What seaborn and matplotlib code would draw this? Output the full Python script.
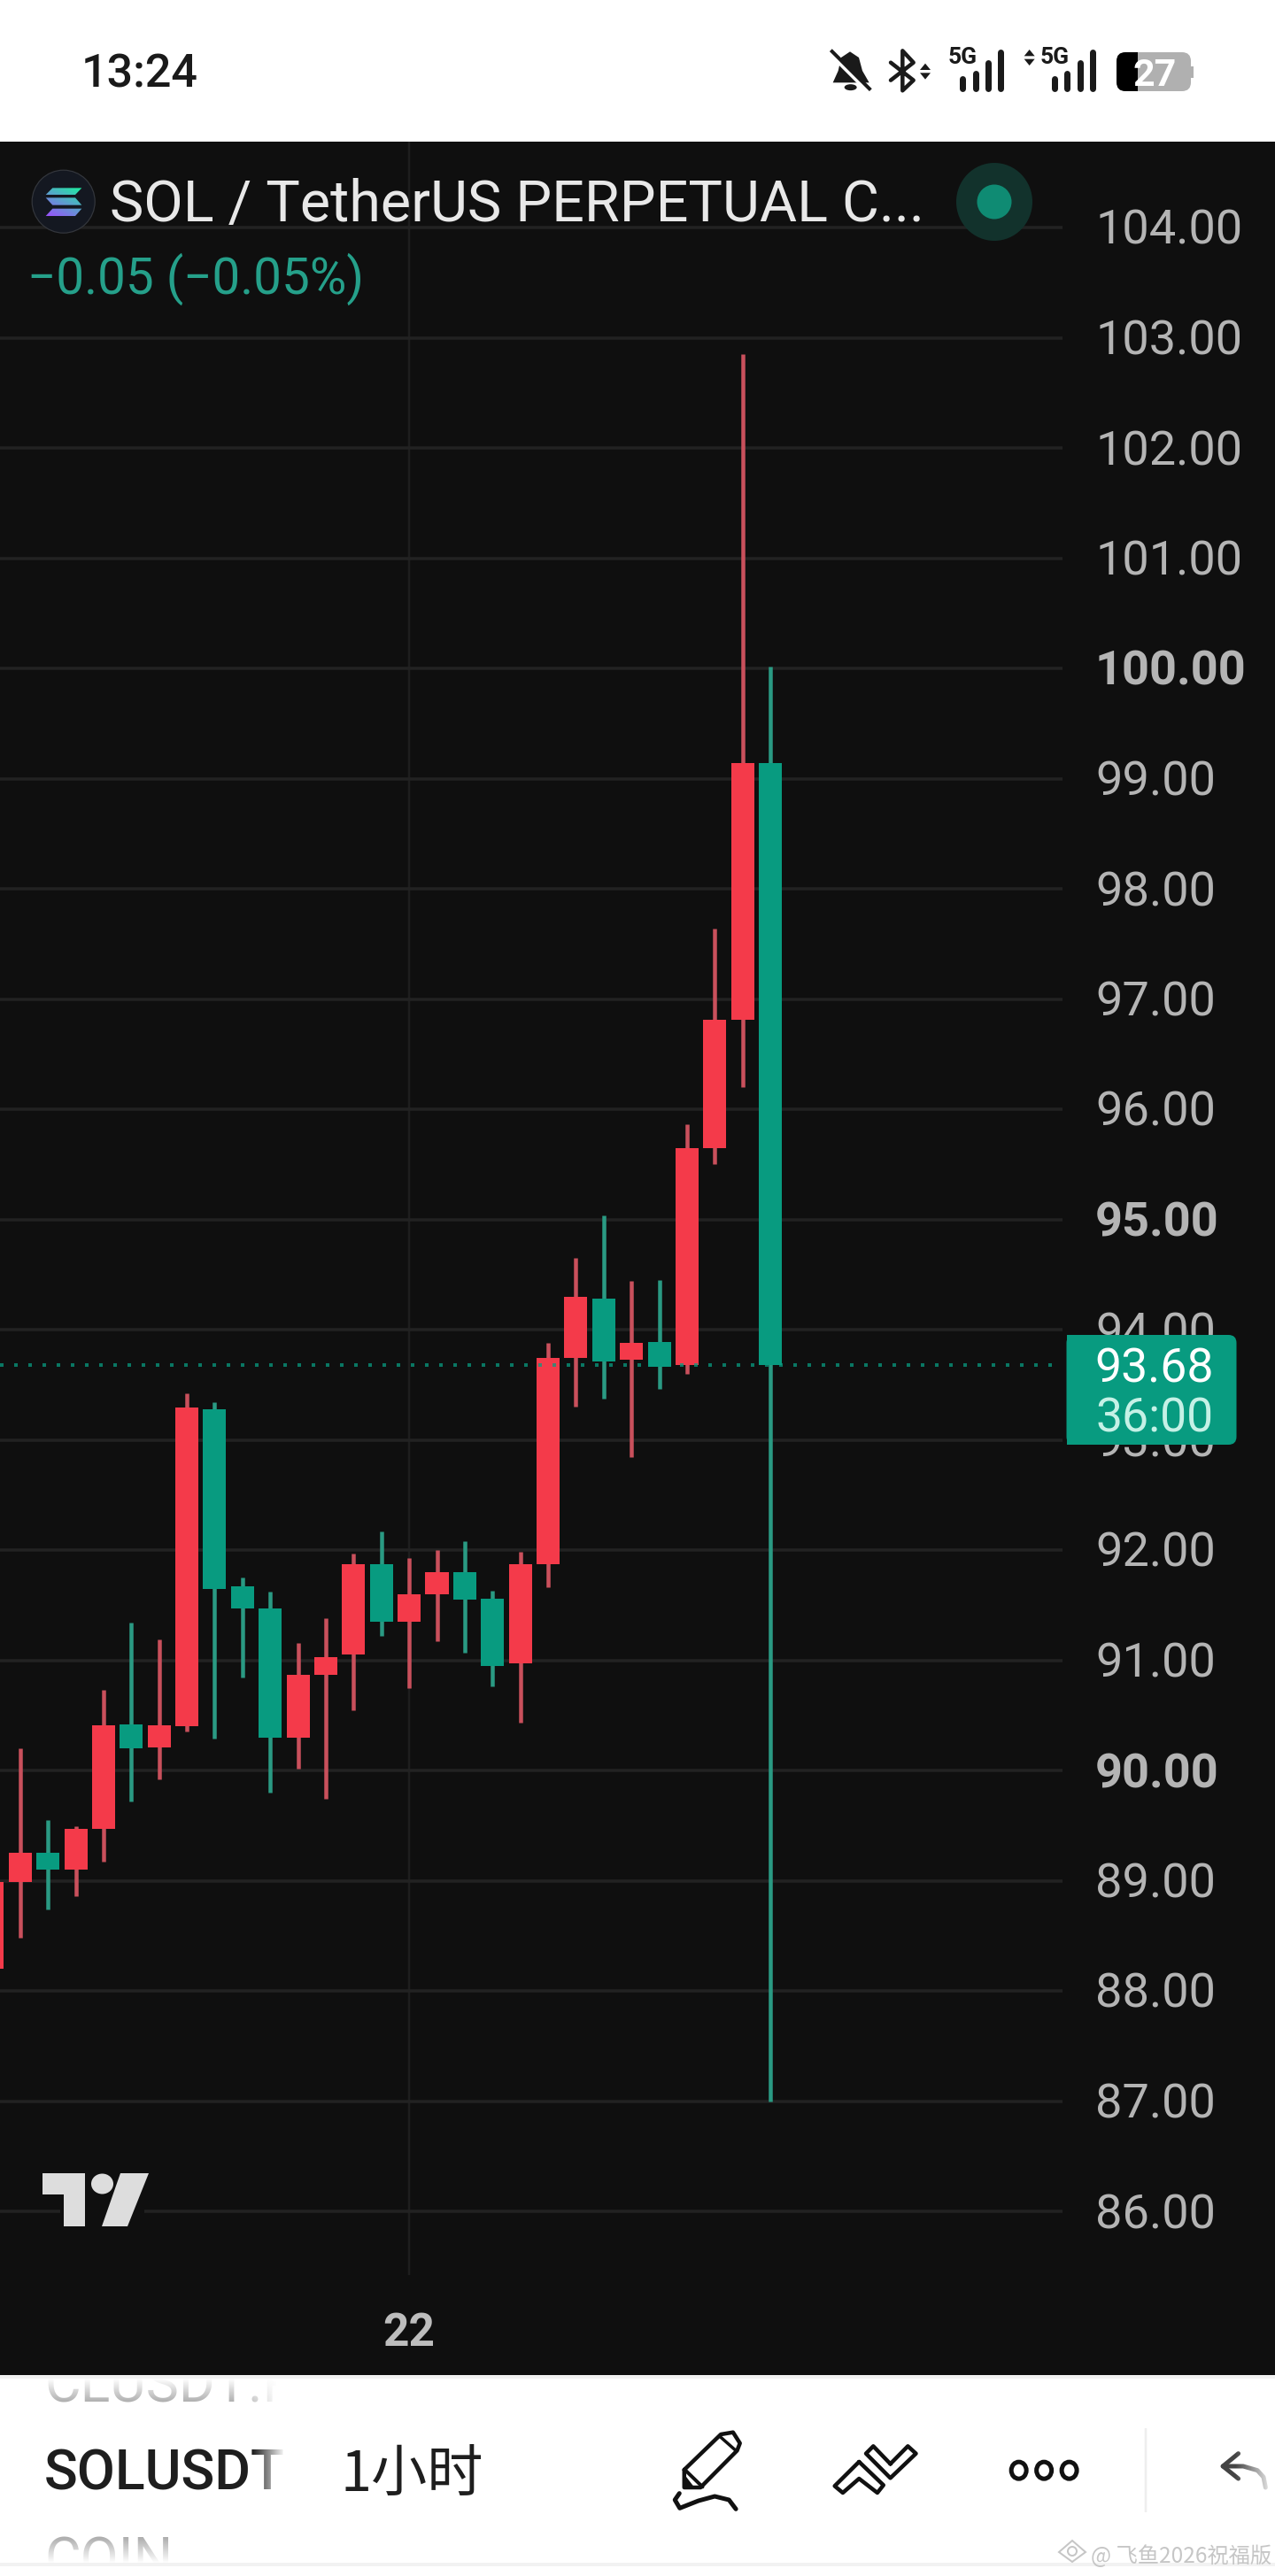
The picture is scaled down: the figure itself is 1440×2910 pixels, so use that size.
import numpy as np
import pandas as pd
import matplotlib
matplotlib.use("Agg")
import matplotlib.pyplot as plt
import seaborn as sns
from matplotlib.patches import Rectangle, FancyBboxPatch, Polygon, Circle, Ellipse, PathPatch
from matplotlib.path import Path
from matplotlib.transforms import ScaledTranslation

# ---- data ----
candle_index = list(range(-1, 28))
opens  = [88.20, 88.99, 89.25, 89.10, 89.47, 90.42, 90.21, 90.40, 93.28, 91.67, 91.47, 90.30, 90.87, 91.05, 91.87, 91.35,
          91.60, 91.80, 91.56, 90.97, 91.87, 93.74, 94.285, 93.73, 93.89, 93.68, 95.65, 96.81, 99.14]
closes = [88.99, 89.25, 89.10, 89.47, 90.41, 90.20, 90.41, 93.29, 91.65, 91.47, 90.30, 90.87, 91.03, 91.87, 91.35, 91.60,
          91.80, 91.55, 90.95, 91.87, 93.74, 94.30, 93.71, 93.88, 93.66, 95.65, 96.81, 99.14, 93.68]
highs  = [89.20, 90.20, 89.55, 89.49, 90.73, 91.34, 91.19, 93.42, 93.34, 91.75, 91.62, 91.16, 91.38, 91.97, 92.17, 91.93,
          92.00, 92.08, 91.63, 91.98, 93.88, 94.65, 95.04, 94.44, 94.45, 95.86, 97.635, 102.85, 100.02]
lows   = [88.00, 88.48, 88.74, 88.86, 89.17, 89.72, 89.92, 90.35, 90.29, 90.84, 89.80, 90.02, 89.74, 90.55, 91.22, 90.75,
          91.17, 91.07, 90.76, 90.43, 91.66, 93.305, 93.37, 92.84, 93.46, 93.60, 95.50, 96.20, 87.00]
price_ticks = list(range(86, 105))
bold_ticks = [90, 95, 100]
day_tick = 14
day_label = "22"
last_price = 93.675
title_text = "SOL / TetherUS PERPETUAL C..."
change_text = "\u22120.05 (\u22120.05%)"
price_tag = "93.68"
timer_tag = "36:00"

UP, DOWN, BG = "#F43A4A", "#089B80", "#0F0F0F"
UP_WICK, DOWN_WICK = "#C9505C", "#2A9A83"
GRID = "#222222"
LABEL = "#B4B4B4"

W, H = 1440, 2910
px = 72 / 100  # points per pixel at dpi 100

sns.set_theme(style="dark", rc={"axes.facecolor": BG, "figure.facecolor": "white"})
plt.rcParams["font.family"] = ["Roboto", "Noto Sans CJK SC", "DejaVu Sans"]

frame = pd.DataFrame({"i": candle_index, "o": opens, "c": closes, "h": highs, "l": lows})
frame["dir"] = np.where(frame.c >= frame.o, "up", "down")
wicks = frame.melt(id_vars=["i", "dir"], value_vars=["l", "h"], value_name="price")

fig = plt.figure(figsize=(W / 100, H / 100), dpi=100, facecolor="white")
fig.add_artist(Rectangle((0, 1 - 2683 / H), 1, (2683 - 160) / H, transform=fig.transFigure, color=BG, lw=0, zorder=-5))
fig.add_artist(Rectangle((0, 1 - 2687 / H), 1, 4 / H, transform=fig.transFigure, color="#F2F2F2", lw=0, zorder=-5))
fig.add_artist(Rectangle((0, 1 - 2899 / H), 1, 4 / H, transform=fig.transFigure, color="#F2F2F2", lw=0, zorder=-5))

# ---- candlestick axes ----
ax = fig.add_axes([0, 1 - 2570 / H, 1200 / W, (2570 - 160) / H], zorder=1)
ax.set_facecolor(BG)
sns.lineplot(data=wicks, x="i", y="price", units="i", estimator=None, hue="dir", sort=False,
             palette={"up": UP_WICK, "down": DOWN_WICK}, linewidth=4.5 * px, legend=False,
             solid_capstyle="butt", ax=ax, zorder=3)
body_bottom = frame[["o", "c"]].min(axis=1)
body_height = (frame.o - frame.c).abs()
ax.bar(frame.i, body_height, bottom=body_bottom, width=0.83, linewidth=0,
       color=[UP if d == "up" else DOWN for d in frame["dir"]], zorder=4)
ax.axhline(last_price, color="#089B80", alpha=0.75, lw=4 * px, linestyle=(0, (1, 3)), zorder=5)

ax.set_xlim(-22.8 / 31.38, (1200 - 22.8) / 31.38)
ax.set_ylim(104 - (2570 - 257) / 124.5, 104 + (257 - 160) / 124.5)
ax.set_xticks([day_tick])
ax.set_xticklabels([day_label])
ax.yaxis.tick_right()
ax.yaxis.set_label_position("right")
ax.set_yticks(price_ticks)
ax.set_yticklabels([f"{v:.2f}" for v in price_ticks])
ax.set_xlabel("")
ax.set_ylabel("")
ax.tick_params(axis="y", length=0, pad=37 * px, labelsize=39, colors=LABEL)
ax.tick_params(axis="x", length=0, pad=41 * px, labelsize=37, colors="#BDBDBD")
for lab in ax.get_xticklabels():
    lab.set_fontweight("bold")
up_shift = ScaledTranslation(0, 1 / 100, fig.dpi_scale_trans)
for v, tick in zip(price_ticks, ax.yaxis.get_major_ticks()):
    tick.label2.set_fontweight("bold" if v in bold_ticks else "normal")
    tick.label2.set_transform(tick.label2.get_transform() + up_shift)
ax.grid(True, axis="y", color=GRID, lw=3.5 * px, zorder=0)
ax.grid(True, axis="x", color="#1E1E1E", lw=2.5 * px, zorder=0)
ax.set_axisbelow(True)
sns.despine(ax=ax, left=True, bottom=True, right=True, top=True)

# ---- interface chrome, in pixel coordinates ----
ui = fig.add_axes([0, 0, 1, 1], zorder=5)
ui.set_xlim(0, W)
ui.set_ylim(H, 0)
ui.axis("off")
ui.patch.set_alpha(0)
ui.set_autoscale_on(False)


def text(x, y, s, size, color, weight="normal", ha="left", va="center", **kw):
    return ui.text(x, y, s, fontsize=size, color=color, fontweight=weight, ha=ha, va=va, **kw)


def line(xs, ys, color="#111111", width=5, cap="round", join="round", **kw):
    ui.plot(xs, ys, color=color, lw=width * px, solid_capstyle=cap, solid_joinstyle=join, **kw)


def fade(x0, x1, y0, y1, vertical=False, reverse=False):
    ramp = np.linspace(0, 1, 64)
    if reverse:
        ramp = ramp[::-1]
    rgba = np.ones((64, 1, 4)) if vertical else np.ones((1, 64, 4))
    rgba[..., 3] = ramp[:, None] if vertical else ramp[None, :]
    ui.imshow(rgba, extent=(x0, x1, y1, y0), aspect="auto", zorder=8, interpolation="bilinear")


# status bar
text(92, 79, "13:24", 37.5, "#1A1A1A", weight="medium", va="center_baseline")


def zx(v):
    return 900 + v / 3


def zy(v):
    return 40 + v / 3


ui.add_patch(Polygon([(zx(a), zy(b)) for a, b in [(180, 55), (150, 75), (140, 120), (122, 160), (245, 160), (222, 120), (210, 75)]],
                     color="#1A1A1A", lw=0))
ui.add_patch(Ellipse((zx(182), zy(176)), 14, 7, color="#1A1A1A", lw=0))
line([zx(108), zx(243)], [zy(58), zy(193)], color="white", width=4, cap="butt")
line([zx(115), zx(250)], [zy(50), zy(185)], color="#1A1A1A", width=4, cap="butt")
line([zx(a) for a in (318, 395, 358, 358, 395, 318)], [zy(b) for b in (92, 152, 187, 52, 92, 152)], color="#1A1A1A", width=4.5)
for cx, t in [(435, 95), (788, 48)]:
    ui.add_patch(Polygon([(zx(cx), zy(t)), (zx(cx + 18), zy(t + 22)), (zx(cx - 18), zy(t + 22))], color="#1A1A1A", lw=0))
    ui.add_patch(Polygon([(zx(cx - 18), zy(t + 32)), (zx(cx + 18), zy(t + 32)), (zx(cx), zy(t + 54))], color="#1A1A1A", lw=0))
for x5, bars in [(512, (561, 605, 648, 691)), (825, (873, 916, 959, 1003))]:
    text(zx(x5), zy(75), "5G", 19, "#1A1A1A", weight="bold", va="center")
    for bx_, top in zip(bars, (137, 120, 85, 48)):
        line([zx(bx_), zx(bx_)], [zy(top) + 3, zy(190) - 3], color="#1A1A1A", width=7)
ui.add_patch(Rectangle((1344, 75), 4, 13, color="#B0B0B0", lw=0))
dark = FancyBboxPatch((1261, 59), 84, 44, boxstyle="round,pad=0,rounding_size=10", color="black", lw=0)
ui.add_patch(dark)
dark.set_clip_path(Rectangle((1261, 59), 24, 44, transform=ui.transData))
gray = FancyBboxPatch((1261, 59), 84, 44, boxstyle="round,pad=0,rounding_size=10", color="#B0B0B0", lw=0)
ui.add_patch(gray)
gray.set_clip_path(Rectangle((1285, 59), 60, 44, transform=ui.transData))
text(1304, 81, "27", 31, "white", weight="bold", ha="center", va="center_baseline", zorder=6)

# header of the chart
ui.add_patch(Circle((71.7, 227.7), 35.5, facecolor="#141821", edgecolor="#34373D", lw=1.2 * px))
bars_zoom = [[(118, 97), (217, 97), (195, 120), (95, 120)],
             [(95, 130), (195, 130), (217, 155), (118, 155)],
             [(118, 167), (217, 167), (195, 192), (95, 192)]]
verts, codes = [], []
for poly in bars_zoom:
    pts = [(20 + a / 3, 180 + b / 3) for a, b in poly]
    verts += pts + [pts[0]]
    codes += [Path.MOVETO, Path.LINETO, Path.LINETO, Path.LINETO, Path.CLOSEPOLY]
clip = PathPatch(Path(verts, codes), transform=ui.transData, fc="none", lw=0)
ui.add_patch(clip)
yy, xx = np.mgrid[0:1:48j, 0:1:48j]
mix = np.clip(0.62 * yy + 0.38 * (1 - xx), 0, 1)[..., None]
grad = (1 - mix) * np.array([0.10, 0.95, 0.62]) + mix * np.array([0.62, 0.30, 1.0])
im = ui.imshow(grad, extent=(51, 93, 245, 211), aspect="auto", zorder=4)
im.set_clip_path(clip)
text(124, 250, title_text, 46.5, "#E8E8E8", weight="normal", va="baseline", zorder=6)
text(31, 332, change_text, 40.8, "#25A08A", weight="normal", va="baseline", zorder=6)
ui.add_patch(Ellipse((1123, 228), 86, 88, color="#12322C", lw=0))
ui.add_patch(Circle((1123, 228), 19.5, color="#0F8B73", lw=0))

# price tag
ui.add_patch(FancyBboxPatch((1204.5, 1508), 192, 124, boxstyle="round,pad=0,rounding_size=9", color="#089B80", lw=0))
ui.add_patch(Rectangle((1204.5, 1508), 15, 124, color="#089B80", lw=0))
text(1304, 1542, price_tag, 38.5, "white", weight="normal", ha="center", va="center_baseline")
text(1304, 1598, timer_tag, 38.5, "#C5F1E6", weight="normal", ha="center", va="center_baseline")

# TradingView mark
ui.add_patch(Rectangle((68, 2495), 95, 8, color=BG, lw=0))
tv = "#DDDDDD"
ui.add_patch(Polygon([(47.7, 2455), (96.4, 2455), (96.4, 2515), (71.6, 2515), (71.6, 2479), (47.7, 2479)], color=tv, lw=0))
ui.add_patch(Ellipse((115.5, 2467), 25, 23, color=tv, lw=0))
ui.add_patch(Polygon([(136, 2455), (168, 2455), (144, 2515), (115, 2515)], color=tv, lw=0))

# bottom panel
for s, y, x1, yclip in [("CLUSDT.P", 2690, 312, (2687, 2720)), ("COIN", 2888, 240, (2860, 2895))]:
    t = text(50, y, s, 45, "#A4A4A4", weight="normal", va="center_baseline")
    t.set_clip_on(True)
    t.set_clip_path(Rectangle((0, yclip[0]), x1, yclip[1] - yclip[0], transform=ui.transData))
fade(50, 340, 2687, 2717, vertical=True, reverse=True)
fade(270, 316, 2687, 2720)
fade(50, 240, 2863, 2895, vertical=True)
text(50, 2789, "SOLUSDT", 45, "#1E1E1E", weight="medium", va="center_baseline")
fade(285, 322, 2750, 2830)
text(384, 2789, "1\u5c0f\u65f6", 45.5, "#1E1E1E", weight="normal", va="center_baseline",
     family=["Noto Sans CJK SC", "DejaVu Sans"])


def bx(v):
    return 720 + v / 2.178


def by(v):
    return 2700 + v / 3


pencil = [(115, 270), (205, 150), (235, 143), (252, 180), (245, 205), (155, 330), (115, 330)]
line([bx(a) for a, b in pencil + pencil[:1]], [by(b) for a, b in pencil + pencil[:1]], width=4.5)
line([bx(118), bx(160)], [by(272), by(328)], width=4)
line([bx(205), bx(242)], [by(160), by(205)], width=3.5)
ui.add_patch(Polygon([(bx(115), by(285)), (bx(140), by(330)), (bx(115), by(330))], color="#111111", lw=0))
sq = [(103, 350), (92, 372), (104, 400), (150, 375), (190, 360), (225, 372), (242, 403)]
line([bx(a) for a, b in sq], [by(b) for a, b in sq], width=5)
ch1 = [(545, 243), (605, 322), (590, 348), (545, 300), (505, 348), (485, 325)]
ch2 = [(622, 250), (665, 190), (685, 215), (622, 298), (562, 215), (580, 190)]
for c in (ch1, ch2):
    c = c + c[:1]
    line([bx(a) for a, b in c], [by(b) for a, b in c], width=4.5)
for c in (938, 1000, 1062):
    ui.add_patch(Ellipse((bx(c), by(272)), 17, 19, fc="none", ec="#111111", lw=5 * px))
line([bx(1250), bx(1250)], [by(130), by(415)], color="#EEEEEE", width=2.5, cap="butt")
line([bx(1478), bx(1440), bx(1478)], [by(215), by(258), by(300)], color="#444444", width=5)
arc = [(1440, 258), (1490, 258), (1525, 272), (1540, 295), (1545, 330)]
line([bx(a) for a, b in arc], [by(b) for a, b in arc], color="#444444", width=5)
fade(1395, 1440, 2760, 2815)

# watermark
wm = "#C6C6C6"
ui.add_patch(Polygon([(1211, 2870), (1226, 2883), (1211, 2894), (1196, 2883)], fc="none", ec=wm, lw=2 * px))
ui.add_patch(Circle((1211, 2882), 5, fc="none", ec=wm, lw=2 * px))
text(1232, 2885, "@ \u98de\u9c7c2026\u795d\u798f\u7248", 17.5, wm, va="center_baseline",
     family=["Noto Sans CJK SC", "DejaVu Sans"])

fig.savefig("out.png", dpi=100, facecolor="white")
